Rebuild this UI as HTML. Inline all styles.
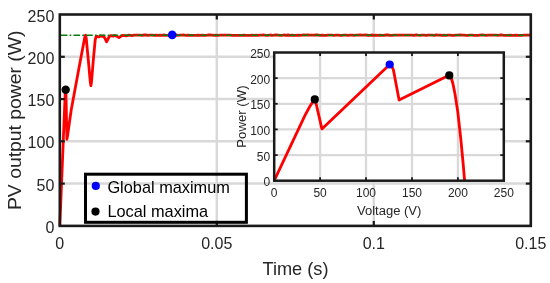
<!DOCTYPE html>
<html><head><meta charset="utf-8"><title>PV output power</title>
<style>html,body{margin:0;padding:0;background:#fff;}svg{display:block;}</style></head>
<body>
<svg width="550" height="283" viewBox="0 0 550 283" font-family="Liberation Sans, Arial, sans-serif">
<rect width="550" height="283" fill="#fff"/>
<line x1="216.8" y1="14.5" x2="216.8" y2="225.9" stroke="#d9d9d9" stroke-width="2.5"/>
<line x1="373.8" y1="14.5" x2="373.8" y2="225.9" stroke="#d9d9d9" stroke-width="2.5"/>
<line x1="59.8" y1="183.6" x2="530.8" y2="183.6" stroke="#d9d9d9" stroke-width="2.5"/>
<line x1="59.8" y1="141.3" x2="530.8" y2="141.3" stroke="#d9d9d9" stroke-width="2.5"/>
<line x1="59.8" y1="99.1" x2="530.8" y2="99.1" stroke="#d9d9d9" stroke-width="2.5"/>
<line x1="59.8" y1="56.8" x2="530.8" y2="56.8" stroke="#d9d9d9" stroke-width="2.5"/>
<path d="M59.8 225.9 L62.5 160.0 L65.2 93.0 L65.7 90.0 L66.1 100.0 L66.9 139.3 L67.5 136.0 L71.2 110.0 L78.6 70.0 L83.5 44.0 L84.8 37.0 L85.5 35.2 L86.2 38.0 L88.5 62.0 L90.3 82.0 L90.9 85.7 L91.5 82.0 L93.5 58.0 L95.2 40.0 L96.0 36.8 L97.0 36.2 L99.0 37.0 L100.5 35.8 L102.0 36.3 L103.5 36.0 L105.0 38.5 L106.6 41.8 L108.0 39.0 L109.5 36.0 L111.0 35.6 L113.0 36.2 L115.0 35.4 L117.0 36.4 L119.0 37.6 L121.0 36.2 L123.0 35.3 L126.0 35.8 L129.0 35.2 L132.0 35.6 L134.0 35.1 L136.0 35.2 L138.0 35.1 L140.0 35.2 L142.0 35.3 L144.0 35.0 L146.0 35.0 L148.0 35.3 L150.0 35.1 L152.0 35.1 L154.0 35.4 L156.0 35.2 L158.0 35.3 L160.0 35.2 L162.0 35.3 L164.0 35.0 L166.0 35.3 L168.0 35.4 L170.0 35.2 L172.0 35.3 L174.0 35.3 L176.0 35.0 L178.0 35.3 L180.0 35.2 L182.0 35.1 L184.0 35.0 L186.0 35.4 L188.0 35.2 L190.0 35.3 L192.0 35.4 L194.0 35.3 L196.0 35.4 L198.0 35.2 L200.0 35.3 L202.0 35.2 L204.0 35.4 L206.0 35.4 L208.0 35.0 L210.0 35.0 L212.0 35.1 L214.0 35.4 L216.0 35.2 L218.0 35.3 L220.0 35.1 L222.0 35.2 L224.0 35.1 L226.0 35.1 L228.0 35.2 L230.0 35.2 L232.0 35.4 L234.0 35.3 L236.0 35.4 L238.0 35.4 L240.0 35.4 L242.0 35.3 L244.0 35.1 L246.0 35.4 L248.0 35.4 L250.0 35.4 L252.0 35.2 L254.0 35.3 L256.0 35.1 L258.0 35.3 L260.0 35.2 L262.0 35.1 L264.0 35.0 L266.0 35.4 L268.0 35.4 L270.0 35.0 L272.0 35.3 L274.0 35.2 L276.0 35.0 L278.0 35.1 L280.0 35.3 L282.0 35.4 L284.0 35.0 L286.0 35.3 L288.0 35.0 L290.0 35.3 L292.0 35.1 L294.0 35.4 L296.0 35.4 L298.0 35.2 L300.0 35.4 L302.0 35.1 L304.0 35.0 L306.0 35.2 L308.0 35.0 L310.0 35.1 L312.0 35.2 L314.0 35.2 L316.0 35.0 L318.0 35.0 L320.0 35.4 L322.0 35.1 L324.0 35.4 L326.0 35.4 L328.0 35.1 L330.0 35.2 L332.0 35.2 L334.0 35.3 L336.0 35.2 L338.0 35.2 L340.0 35.3 L342.0 35.4 L344.0 35.2 L346.0 35.2 L348.0 35.3 L350.0 35.1 L352.0 35.1 L354.0 35.4 L356.0 35.2 L358.0 35.2 L360.0 35.0 L362.0 35.2 L364.0 35.2 L366.0 35.0 L368.0 35.3 L370.0 35.3 L372.0 35.0 L374.0 35.3 L376.0 35.2 L378.0 35.3 L380.0 35.1 L382.0 35.3 L384.0 35.3 L386.0 35.0 L388.0 35.0 L390.0 35.3 L392.0 35.4 L394.0 35.1 L396.0 35.2 L398.0 35.2 L400.0 35.1 L402.0 35.1 L404.0 35.1 L406.0 35.1 L408.0 35.2 L410.0 35.1 L412.0 35.1 L414.0 35.3 L416.0 35.0 L418.0 35.2 L420.0 35.3 L422.0 35.1 L424.0 35.1 L426.0 35.3 L428.0 35.1 L430.0 35.1 L432.0 35.2 L434.0 35.3 L436.0 35.0 L438.0 35.1 L440.0 35.1 L442.0 35.3 L444.0 35.2 L446.0 35.4 L448.0 35.1 L450.0 35.1 L452.0 35.3 L454.0 35.4 L456.0 35.2 L458.0 35.1 L460.0 35.0 L462.0 35.2 L464.0 35.1 L466.0 35.3 L468.0 35.3 L470.0 35.1 L472.0 35.1 L474.0 35.3 L476.0 35.3 L478.0 35.3 L480.0 35.1 L482.0 35.0 L484.0 35.1 L486.0 35.3 L488.0 35.1 L490.0 35.1 L492.0 35.2 L494.0 35.2 L496.0 35.2 L498.0 35.4 L500.0 35.0 L502.0 35.0 L504.0 35.4 L506.0 35.4 L508.0 35.4 L510.0 35.2 L512.0 35.4 L514.0 35.4 L516.0 35.1 L518.0 35.3 L520.0 35.3 L522.0 35.3 L524.0 35.2 L526.0 35.1 L528.0 35.1 L530.0 35.1 L530.8 35.2" fill="none" stroke="#ff0000" stroke-width="2.8" stroke-linejoin="round" stroke-linecap="butt"/>
<line x1="60.8" y1="35.25" x2="530.8" y2="35.25" stroke="#0a7d0a" stroke-width="1.6" stroke-dasharray="6.6 2.2 1.7 2.2"/>
<circle cx="65.7" cy="89.7" r="4.2" fill="#000"/>
<circle cx="172.2" cy="34.9" r="4.3" fill="#0000ff"/>
<line x1="216.8" y1="14.5" x2="216.8" y2="19.5" stroke="#1a1a1a" stroke-width="2.2"/>
<line x1="216.8" y1="225.9" x2="216.8" y2="220.9" stroke="#1a1a1a" stroke-width="2.2"/>
<line x1="373.8" y1="14.5" x2="373.8" y2="19.5" stroke="#1a1a1a" stroke-width="2.2"/>
<line x1="373.8" y1="225.9" x2="373.8" y2="220.9" stroke="#1a1a1a" stroke-width="2.2"/>
<line x1="59.8" y1="183.6" x2="64.8" y2="183.6" stroke="#1a1a1a" stroke-width="2.2"/>
<line x1="530.8" y1="183.6" x2="525.8" y2="183.6" stroke="#1a1a1a" stroke-width="2.2"/>
<line x1="59.8" y1="141.3" x2="64.8" y2="141.3" stroke="#1a1a1a" stroke-width="2.2"/>
<line x1="530.8" y1="141.3" x2="525.8" y2="141.3" stroke="#1a1a1a" stroke-width="2.2"/>
<line x1="59.8" y1="99.1" x2="64.8" y2="99.1" stroke="#1a1a1a" stroke-width="2.2"/>
<line x1="530.8" y1="99.1" x2="525.8" y2="99.1" stroke="#1a1a1a" stroke-width="2.2"/>
<line x1="59.8" y1="56.8" x2="64.8" y2="56.8" stroke="#1a1a1a" stroke-width="2.2"/>
<line x1="530.8" y1="56.8" x2="525.8" y2="56.8" stroke="#1a1a1a" stroke-width="2.2"/>
<rect x="59.8" y="14.5" width="471.0" height="211.4" fill="none" stroke="#1a1a1a" stroke-width="2.6"/>
<text x="54.3" y="233.0" font-size="16" text-anchor="end" fill="#262626">0</text>
<text x="54.3" y="190.7" font-size="16" text-anchor="end" fill="#262626">50</text>
<text x="54.3" y="148.4" font-size="16" text-anchor="end" fill="#262626">100</text>
<text x="54.3" y="106.2" font-size="16" text-anchor="end" fill="#262626">150</text>
<text x="54.3" y="63.9" font-size="16" text-anchor="end" fill="#262626">200</text>
<text x="54.3" y="21.6" font-size="16" text-anchor="end" fill="#262626">250</text>
<text x="59.8" y="248.8" font-size="16" text-anchor="middle" fill="#262626">0</text>
<text x="216.8" y="248.8" font-size="16" text-anchor="middle" fill="#262626">0.05</text>
<text x="373.8" y="248.8" font-size="16" text-anchor="middle" fill="#262626">0.1</text>
<text x="530.8" y="248.8" font-size="16" text-anchor="middle" fill="#262626">0.15</text>
<text x="295.5" y="274.6" font-size="18.2" text-anchor="middle" fill="#262626">Time (s)</text>
<text transform="translate(21.3 120.3) rotate(-90) scale(1.075 1)" font-size="18" text-anchor="middle" fill="#262626">PV output power (W)</text>
<rect x="274.2" y="52.5" width="229.6" height="128.2" fill="#fff"/>
<line x1="320.1" y1="52.5" x2="320.1" y2="180.7" stroke="#d9d9d9" stroke-width="2.3"/>
<line x1="366.0" y1="52.5" x2="366.0" y2="180.7" stroke="#d9d9d9" stroke-width="2.3"/>
<line x1="412.0" y1="52.5" x2="412.0" y2="180.7" stroke="#d9d9d9" stroke-width="2.3"/>
<line x1="457.9" y1="52.5" x2="457.9" y2="180.7" stroke="#d9d9d9" stroke-width="2.3"/>
<line x1="274.2" y1="155.1" x2="503.8" y2="155.1" stroke="#d9d9d9" stroke-width="2.3"/>
<line x1="274.2" y1="129.4" x2="503.8" y2="129.4" stroke="#d9d9d9" stroke-width="2.3"/>
<line x1="274.2" y1="103.8" x2="503.8" y2="103.8" stroke="#d9d9d9" stroke-width="2.3"/>
<line x1="274.2" y1="78.1" x2="503.8" y2="78.1" stroke="#d9d9d9" stroke-width="2.3"/>
<path d="M274.2 180.7 L305.0 115.4 L309.5 107.0 L312.5 102.2 L314.2 100.2 L314.8 99.7 L315.5 101.0 L321.9 128.9 L389.7 64.5 L391.8 66.3 L393.3 69.5 L394.3 74.5 L395.4 80.5 L399.1 100.1 L444.0 77.8 L447.5 76.0 L449.3 75.6 L451.0 77.0 L453.0 84.0 L455.0 94.0 L457.8 112.0 L460.7 138.0 L463.1 163.0 L464.6 180.7" fill="none" stroke="#ff0000" stroke-width="2.8" stroke-linejoin="round"/>
<circle cx="314.8" cy="99.4" r="4.1" fill="#000"/>
<circle cx="389.7" cy="64.5" r="4.1" fill="#0000ff"/>
<circle cx="449.3" cy="75.4" r="4.1" fill="#000"/>
<line x1="320.1" y1="52.5" x2="320.1" y2="56.0" stroke="#1a1a1a" stroke-width="1.8"/>
<line x1="320.1" y1="180.7" x2="320.1" y2="177.2" stroke="#1a1a1a" stroke-width="1.8"/>
<line x1="366.0" y1="52.5" x2="366.0" y2="56.0" stroke="#1a1a1a" stroke-width="1.8"/>
<line x1="366.0" y1="180.7" x2="366.0" y2="177.2" stroke="#1a1a1a" stroke-width="1.8"/>
<line x1="412.0" y1="52.5" x2="412.0" y2="56.0" stroke="#1a1a1a" stroke-width="1.8"/>
<line x1="412.0" y1="180.7" x2="412.0" y2="177.2" stroke="#1a1a1a" stroke-width="1.8"/>
<line x1="457.9" y1="52.5" x2="457.9" y2="56.0" stroke="#1a1a1a" stroke-width="1.8"/>
<line x1="457.9" y1="180.7" x2="457.9" y2="177.2" stroke="#1a1a1a" stroke-width="1.8"/>
<line x1="274.2" y1="155.1" x2="277.7" y2="155.1" stroke="#1a1a1a" stroke-width="1.8"/>
<line x1="503.8" y1="155.1" x2="500.3" y2="155.1" stroke="#1a1a1a" stroke-width="1.8"/>
<line x1="274.2" y1="129.4" x2="277.7" y2="129.4" stroke="#1a1a1a" stroke-width="1.8"/>
<line x1="503.8" y1="129.4" x2="500.3" y2="129.4" stroke="#1a1a1a" stroke-width="1.8"/>
<line x1="274.2" y1="103.8" x2="277.7" y2="103.8" stroke="#1a1a1a" stroke-width="1.8"/>
<line x1="503.8" y1="103.8" x2="500.3" y2="103.8" stroke="#1a1a1a" stroke-width="1.8"/>
<line x1="274.2" y1="78.1" x2="277.7" y2="78.1" stroke="#1a1a1a" stroke-width="1.8"/>
<line x1="503.8" y1="78.1" x2="500.3" y2="78.1" stroke="#1a1a1a" stroke-width="1.8"/>
<rect x="274.2" y="52.5" width="229.6" height="128.2" fill="none" stroke="#1a1a1a" stroke-width="2.5"/>
<text x="270.2" y="186.2" font-size="12" text-anchor="end" fill="#262626">0</text>
<text x="270.2" y="160.6" font-size="12" text-anchor="end" fill="#262626">50</text>
<text x="270.2" y="134.9" font-size="12" text-anchor="end" fill="#262626">100</text>
<text x="270.2" y="109.3" font-size="12" text-anchor="end" fill="#262626">150</text>
<text x="270.2" y="83.6" font-size="12" text-anchor="end" fill="#262626">200</text>
<text x="270.2" y="58.0" font-size="12" text-anchor="end" fill="#262626">250</text>
<text x="274.2" y="197.4" font-size="12" text-anchor="middle" fill="#262626">0</text>
<text x="320.1" y="197.4" font-size="12" text-anchor="middle" fill="#262626">50</text>
<text x="366.0" y="197.4" font-size="12" text-anchor="middle" fill="#262626">100</text>
<text x="412.0" y="197.4" font-size="12" text-anchor="middle" fill="#262626">150</text>
<text x="457.9" y="197.4" font-size="12" text-anchor="middle" fill="#262626">200</text>
<text x="503.8" y="197.4" font-size="12" text-anchor="middle" fill="#262626">250</text>
<text transform="translate(389.2 215.2) scale(0.965 1)" font-size="13.5" text-anchor="middle" fill="#262626">Voltage (V)</text>
<text transform="translate(245.9 116.6) rotate(-90)" font-size="13.2" text-anchor="middle" fill="#262626">Power (W)</text>
<rect x="85.5" y="174.2" width="160.9" height="48.1" fill="none" stroke="#000" stroke-width="3"/>
<circle cx="95.8" cy="185.9" r="4.1" fill="#0000ff"/>
<circle cx="95.5" cy="211.6" r="4.1" fill="#000"/>
<text transform="translate(107.4 193.2) scale(1.022 1)" font-size="16" fill="#000">Global maximum</text>
<text transform="translate(107.4 216.6) scale(1.022 1)" font-size="16" fill="#000">Local maxima</text>
</svg>
</body></html>
